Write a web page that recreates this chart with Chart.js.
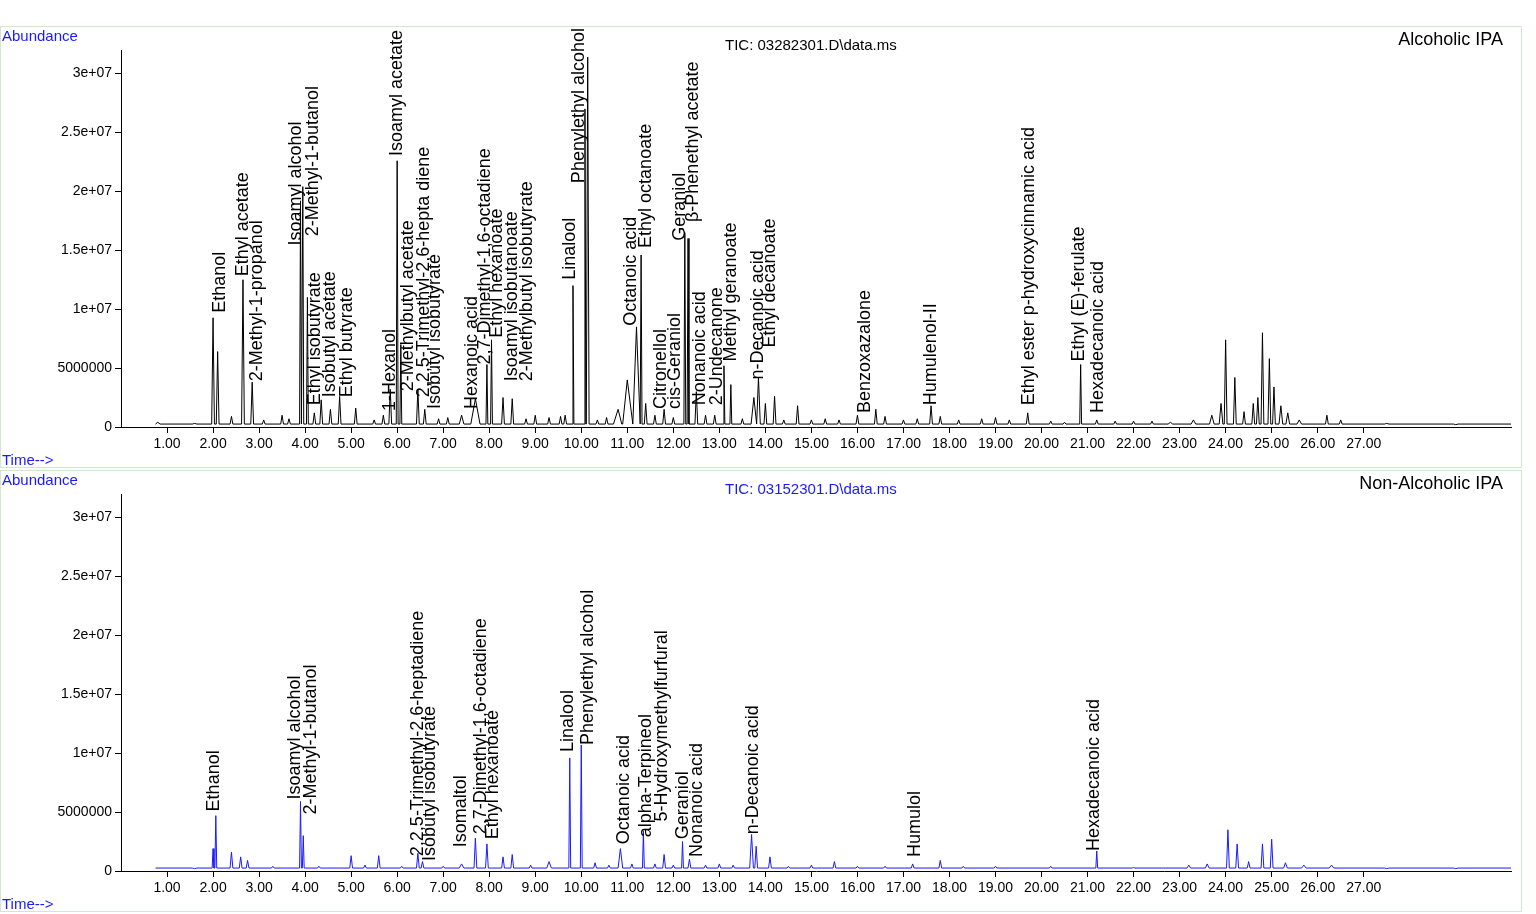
<!DOCTYPE html>
<html>
<head>
<meta charset="utf-8">
<script src="https://cdn.jsdelivr.net/npm/chart.js@4.4.1/dist/chart.umd.min.js"></script>
<style>
  body { margin: 0; background: #fff; font-family: Arial, "Liberation Sans", sans-serif; }
  .panel { position: absolute; left: 0; width: 1520px; height: 440px; border: 1px solid #cfe8cf; }
  .panel canvas { position: absolute; left: 0; top: 0; }
  .ab { position: absolute; left: 1px; top: 0; color: #1a1aff; font-size: 15px; }
  .time { position: absolute; left: 1px; bottom: -1px; color: #1a1aff; font-size: 15px; }
  .tic { position: absolute; top: 9px; font-size: 15px; }
  .name { position: absolute; top: 2px; right: 18px; font-size: 18px; }
</style>
</head>
<body>
<div class="panel" style="top:26px">
  <canvas id="c1" width="1520" height="440"></canvas>
  <div class="ab">Abundance</div><div class="time">Time--&gt;</div>
  <div class="tic" style="left:724px;color:#000">TIC: 03282301.D\data.ms</div>
  <div class="name">Alcoholic IPA</div>
</div>
<div class="panel" style="top:470px">
  <canvas id="c2" width="1520" height="440"></canvas>
  <div class="ab">Abundance</div><div class="time">Time--&gt;</div>
  <div class="tic" style="left:724px;color:#1a1aff">TIC: 03152301.D\data.ms</div>
  <div class="name">Non-Alcoholic IPA</div>
</div>
<script>
// peaks: [time (min), abundance, half width]
var alcoholicPeaks = [
  [0.8,4e5,0.05],[1.6,3e5,0.05],[2.0,9.27e6,0.03],[2.1,6.4e6,0.03],[2.4,9e5,0.03],[2.65,1.25e7,0.03],[2.85,3.8e6,0.03],
  [3.1,6e5,0.03],[3.5,1.0e6,0.03],[3.65,7e5,0.03],[3.9,1.92e7,0.02],[3.95,2.04e7,0.02],[4.05,1.1e7,0.02],[4.2,1.2e6,0.03],
  [4.35,2.3e6,0.03],[4.55,1.5e6,0.03],[4.75,2.6e6,0.03],[5.1,1.6e6,0.03],[5.5,6e5,0.03],[5.7,1.0e6,0.03],[5.85,3.2e6,0.03],
  [6.0,2.26e7,0.02],[6.08,7e6,0.02],[6.45,3.2e6,0.03],[6.6,1.5e6,0.03],[6.9,7e5,0.03],[7.1,8e5,0.03],[7.4,1.0e6,0.05],
  [7.7,2.4e6,0.1],[7.95,5.3e6,0.02],[8.05,7.4e6,0.02],[8.3,2.5e6,0.03],[8.5,2.4e6,0.03],[8.8,7e5,0.03],[9.0,1.0e6,0.03],
  [9.3,8e5,0.03],[9.55,9e5,0.03],[9.65,1.0e6,0.03],[9.82,1.2e7,0.02],[10.08,2.7e7,0.02],[10.14,3.14e7,0.03],[10.35,6e5,0.03],
  [10.55,8e5,0.03],[10.8,1.5e6,0.1],[11.0,4e6,0.12],[11.2,8.5e6,0.08],[11.3,1.46e7,0.02],[11.4,2e6,0.03],[11.6,1.0e6,0.03],
  [11.8,1.5e6,0.03],[12.0,8e5,0.03],[12.25,1.65e7,0.02],[12.32,1.6e7,0.02],[12.5,3e6,0.03],[12.7,1.0e6,0.03],[12.9,1.0e6,0.03],
  [13.1,5.2e6,0.02],[13.25,3.6e6,0.02],[13.5,7e5,0.03],[13.75,2.5e6,0.06],[13.85,4.2e6,0.04],[14.0,2.0e6,0.03],[14.2,2.6e6,0.03],
  [14.4,6e5,0.03],[14.7,1.8e6,0.03],[15.0,6e5,0.03],[15.3,7e5,0.03],[15.6,6e5,0.03],[16.0,1.0e6,0.03],[16.4,1.5e6,0.03],
  [16.6,9e5,0.03],[17.0,6e5,0.03],[17.3,7e5,0.03],[17.6,1.8e6,0.03],[17.8,9e5,0.03],[18.2,6e5,0.03],[18.7,7e5,0.03],
  [19.0,8e5,0.03],[19.3,6e5,0.03],[19.7,1.2e6,0.03],[20.2,5e5,0.03],[20.5,4e5,0.03],[20.85,5.3e6,0.02],[21.2,6e5,0.03],
  [21.6,5e5,0.03],[22.0,5e5,0.03],[22.4,5e5,0.03],[22.8,4e5,0.05],[23.3,6e5,0.05],[23.7,1.0e6,0.05],[23.9,2.0e6,0.04],
  [24.0,7.4e6,0.03],[24.2,4.2e6,0.03],[24.4,1.3e6,0.03],[24.6,2.0e6,0.03],[24.7,2.5e6,0.03],[24.8,8.0e6,0.03],[24.95,5.8e6,0.03],
  [25.05,3.4e6,0.03],[25.2,1.8e6,0.04],[25.35,1.2e6,0.04],[25.6,6e5,0.05],[26.2,1.0e6,0.03],[26.5,6e5,0.03],[27.5,3e5,0.05],[29.0,2e5,0.05]
];
var nonAlcoholicPeaks = [
  [1.6,2e5,0.05],[2.0,1.9e6,0.02],[2.06,4.7e6,0.02],[2.4,1.6e6,0.03],[2.6,1.2e6,0.03],[2.75,9e5,0.03],[3.3,4e5,0.03],
  [3.9,5.9e6,0.02],[3.96,3e6,0.02],[4.3,4e5,0.03],[5.0,1.3e6,0.03],[5.3,5e5,0.03],[5.6,1.3e6,0.03],[6.1,4e5,0.03],
  [6.45,1.5e6,0.03],[6.55,8e5,0.03],[7.0,4e5,0.03],[7.4,6e5,0.05],[7.7,2.8e6,0.03],[7.95,2.3e6,0.03],[8.3,1.2e6,0.03],
  [8.5,1.4e6,0.03],[8.9,5e5,0.03],[9.3,8e5,0.05],[9.75,9.6e6,0.02],[10.0,1.07e7,0.02],[10.3,7e5,0.03],[10.6,5e5,0.03],
  [10.85,1.9e6,0.05],[11.1,6e5,0.03],[11.35,3.4e6,0.02],[11.6,6e5,0.03],[11.8,1.4e6,0.03],[12.0,5e5,0.03],[12.2,2.5e6,0.02],
  [12.35,1.0e6,0.03],[12.7,5e5,0.03],[13.0,6e5,0.03],[13.3,5e5,0.03],[13.7,3.1e6,0.04],[13.8,2.1e6,0.03],[14.1,1.2e6,0.03],
  [14.5,4e5,0.03],[15.0,5e5,0.03],[15.5,8e5,0.03],[16.0,4e5,0.03],[16.6,4e5,0.03],[17.2,6e5,0.03],[17.8,9e5,0.03],
  [18.3,4e5,0.03],[19.0,4e5,0.03],[20.2,4e5,0.03],[21.2,1.7e6,0.02],[22.0,3e5,0.03],[23.2,5e5,0.04],[23.6,6e5,0.04],
  [24.05,3.5e6,0.03],[24.25,2.3e6,0.03],[24.5,8e5,0.03],[24.8,2.3e6,0.03],[25.0,2.7e6,0.03],[25.3,7e5,0.04],[25.7,5e5,0.05],
  [26.3,5e5,0.05],[27.5,2e5,0.05],[29.0,2e5,0.05]
];
// labels: [text, time of text centre, abundance at text start]
var alcoholicLabels = [
  ["Ethanol",2.16,9.69e6],["Ethyl acetate",2.66,1.28e7],["2-Methyl-1-propanol",2.96,3.88e6],["Isoamyl alcohol",3.81,1.54e7],
  ["2-Methyl-1-butanol",4.18,1.62e7],["Ethyl isobutyrate",4.22,1.85e6],["Isobutyl acetate",4.55,2.53e6],["Ethyl butyrate",4.92,2.53e6],
  ["1-Hexanol",5.84,1.35e6],["Isoamyl acetate",5.99,2.30e7],["2-Methylbutyl acetate",6.23,3.03e6],["2,2,5-Trimethyl-2,6-hepta diene",6.58,2.53e6],
  ["Isobutyl isobutyrate",6.82,1.52e6],["Hexanoic acid",7.62,1.52e6],["2,7-Dimethyl-1,6-octadiene",7.90,5.31e6],["Ethyl hexanoate",8.17,7.58e6],
  ["Isoamyl isobutanoate",8.49,3.88e6],["2-Methylbutyl isobutyrate",8.82,3.88e6],["Linalool",9.76,1.25e7],["Phenylethyl alcohol",9.95,2.07e7],
  ["Octanoic acid",11.08,8.6e6],["Ethyl octanoate",11.41,1.52e7],["Citronellol",11.74,1.52e6],["cis-Geraniol",12.04,1.52e6],
  ["Geraniol",12.15,1.58e7],["β-Phenethyl acetate",12.43,1.74e7],["Nonanoic acid",12.57,1.85e6],["2-Undecanone",12.96,1.85e6],
  ["Methyl geranoate",13.26,5.56e6],["n-Decanoic acid",13.83,4.04e6],["Ethyl decanoate",14.11,6.74e6],["Benzoxazalone",16.16,1.18e6],
  ["Humulenol-II",17.60,1.85e6],["Ethyl ester p-hydroxycinnamic acid",19.73,1.85e6],["Ethyl (E)-ferulate",20.82,5.56e6],["Hexadecanoic acid",21.23,1.18e6]
];
var nonAlcoholicLabels = [
  ["Ethanol",2.03,5.06e6],["Isoamyl alcohol",3.79,6.07e6],["2-Methyl-1-butanol",4.12,4.8e6],["2,2,5-Trimethyl-2,6-heptadiene",6.45,1.26e6],
  ["Isobutyl isobutyrate",6.71,8.4e5],["Isomaltol",7.38,2.02e6],["2,7-Dimethyl-1,6-octadiene",7.82,3.12e6],["Ethyl hexanoate",8.08,2.7e6],
  ["Linalool",9.71,1.01e7],["Phenylethyl alcohol",10.15,1.07e7],["Octanoic acid",10.93,2.28e6],["alpha-Terpineol",11.41,2.87e6],
  ["5-Hydroxymethylfurfural",11.76,4.21e6],["Geraniol",12.22,2.7e6],["Nonanoic acid",12.52,1.18e6],["n-Decanoic acid",13.74,3.12e6],
  ["Humulol",17.25,1.18e6],["Hexadecanoic acid",21.15,1.69e6]
];
var xTicks = [1,2,3,4,5,6,7,8,9,10,11,12,13,14,15,16,17,18,19,20,21,22,23,24,25,26,27];
var yTicks = [0,5e6,1e7,1.5e7,2e7,2.5e7,3e7];
var yTickLabels = ["0","5000000","1e+07","1.5e+07","2e+07","2.5e+07","3e+07"];
var baseLevel = 2.5e5;

function trace(peaks) {
  var pts = [{x:0.75, y:baseLevel}];
  peaks.forEach(function(p) {
    pts.push({x:p[0]-p[2], y:baseLevel});
    pts.push({x:p[0], y:p[1]});
    pts.push({x:p[0]+p[2], y:baseLevel});
  });
  pts.push({x:30.2, y:baseLevel});
  pts.sort(function(a, b) { return a.x - b.x; });
  return pts;
}

var labelPlugin = {
  id: 'peakLabels',
  afterDatasetsDraw: function(chart) {
    var labels = chart.options.plugins.peakLabels.labels;
    var ctx = chart.ctx, xs = chart.scales.x, ys = chart.scales.y;
    ctx.save();
    ctx.font = '18px Arial, "Liberation Sans"';
    ctx.fillStyle = '#000';
    ctx.textAlign = 'left';
    ctx.textBaseline = 'middle';
    labels.forEach(function(l) {
      ctx.save();
      ctx.translate(xs.getPixelForValue(l[1]), ys.getPixelForValue(l[2]));
      ctx.rotate(-Math.PI / 2);
      ctx.fillText(l[0], 0, 0);
      ctx.restore();
    });
    ctx.restore();
  }
};

function makeChart(id, peaks, labels, color) {
  new Chart(document.getElementById(id), {
    type: 'line',
    data: { datasets: [{ data: trace(peaks), borderColor: color, borderWidth: 1, pointRadius: 0, tension: 0 }] },
    options: {
      responsive: false, animation: false, parsing: false,
      layout: { padding: { top: 23, right: 10, left: 0, bottom: 0 } },
      plugins: { legend: { display: false }, tooltip: { enabled: false }, peakLabels: { labels: labels } },
      scales: {
        x: {
          type: 'linear', min: 0, max: 30.2,
          afterFit: function(s) { s.height = 40; },
          afterBuildTicks: function(s) { s.ticks = xTicks.map(function(v) { return {value: v}; }); },
          ticks: { autoSkip: false, maxRotation: 0, color: '#000', font: { size: 14, family: 'Arial' },
                   callback: function(v) { return v.toFixed(2); } },
          grid: { display: true, drawOnChartArea: false, tickLength: 6, color: '#000' },
          border: { color: '#000' }
        },
        y: {
          min: 0, max: 3.2e7,
          afterFit: function(s) { s.width = 120; },
          afterBuildTicks: function(s) { s.ticks = yTicks.map(function(v) { return {value: v}; }); },
          ticks: { color: '#000', font: { size: 14, family: 'Arial' },
                   callback: function(v) { return yTickLabels[yTicks.indexOf(v)]; } },
          grid: { display: true, drawOnChartArea: false, tickLength: 6, color: '#000' },
          border: { color: '#000' }
        }
      }
    },
    plugins: [labelPlugin]
  });
}

makeChart('c1', alcoholicPeaks, alcoholicLabels, '#000');
makeChart('c2', nonAlcoholicPeaks, nonAlcoholicLabels, '#1a1aff');
</script>
</body>
</html>
